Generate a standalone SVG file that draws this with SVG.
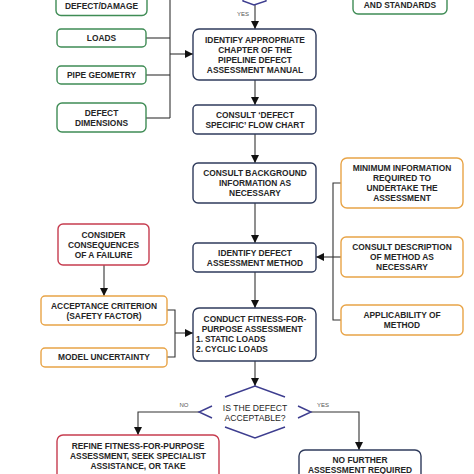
<svg xmlns="http://www.w3.org/2000/svg" width="474" height="474" viewBox="0 0 474 474">
<defs>
<marker id="ah" markerWidth="9" markerHeight="9" refX="8" refY="4.5" orient="auto" markerUnits="userSpaceOnUse">
<path d="M0,0.5 L8,4.5 L0,8.5 Z" fill="#111"/>
</marker>
<style>
.box{fill:#fff;stroke-width:1.4}
.g{stroke:#3f8c55}
.n{stroke:#2f3b5c}
.o{stroke:#e8a447}
.r{stroke:#c63c4f}
.t{font-family:"Liberation Sans",Arial,sans-serif;font-weight:bold;font-size:8.4px;fill:#262626;text-anchor:middle}
.tl{text-anchor:start}
.q{font-family:"Liberation Sans",Arial,sans-serif;font-size:8.6px;fill:#262626;text-anchor:middle}
.s{font-family:"Liberation Sans",Arial,sans-serif;font-size:6px;fill:#555;text-anchor:middle}
.c{fill:none;stroke:#333;stroke-width:1.1}
.d{fill:none;stroke:#3d3d8f;stroke-width:1.4}
</style>
</defs>
<rect width="474" height="474" fill="#fff"/>

<g id="connectors">
<polyline class="c" points="146,38 170,38"/>
<polyline class="c" points="146,75 170,75"/>
<polyline class="c" points="146,118 170,118"/>
<polyline class="c" points="170,-2 170,118"/>
<line class="c" x1="170" y1="54" x2="193" y2="54" marker-end="url(#ah)"/>
<line class="c" x1="255" y1="5" x2="255" y2="29" marker-end="url(#ah)"/>
<line class="c" x1="255" y1="80" x2="255" y2="105" marker-end="url(#ah)"/>
<line class="c" x1="255" y1="134" x2="255" y2="163" marker-end="url(#ah)"/>
<line class="c" x1="255" y1="203" x2="255" y2="243" marker-end="url(#ah)"/>
<line class="c" x1="255" y1="272" x2="255" y2="308" marker-end="url(#ah)"/>
<line class="c" x1="255" y1="361" x2="255" y2="386" marker-end="url(#ah)"/>
<polyline class="c" points="341,183 333,183 333,320 341,320"/>
<line class="c" x1="341" y1="257" x2="316" y2="257" marker-end="url(#ah)"/>
<line class="c" x1="104" y1="265" x2="104" y2="296" marker-end="url(#ah)"/>
<polyline class="c" points="167,310 175,310 175,357 167,357"/>
<line class="c" x1="175" y1="333" x2="193" y2="333" marker-end="url(#ah)"/>
<polyline class="c" points="199,412 138,412 138,435" marker-end="url(#ah)"/>
<polyline class="c" points="311,412 359,412 359,450" marker-end="url(#ah)"/>
<text class="s" x="184" y="407">NO</text>
<text class="s" x="323" y="407">YES</text>
<text class="s" x="243" y="16">YES</text>
</g>

<g id="top-diamond">
<polyline class="d" points="243,-1 243,1 254,5 266,1 266,-1"/>
</g>

<g id="defect-damage">
<rect class="box g" x="56" y="-10" width="91" height="25.5" rx="5"/>
<text class="t" x="101.5" y="8.5">DEFECT/DAMAGE</text>
</g>
<g id="loads">
<rect class="box g" x="57" y="29" width="89" height="18" rx="4"/>
<text class="t" x="101.5" y="41">LOADS</text>
</g>
<g id="pipe-geometry">
<rect class="box g" x="57" y="66" width="89" height="18" rx="4"/>
<text class="t" x="101.5" y="78">PIPE GEOMETRY</text>
</g>
<g id="defect-dimensions">
<rect class="box g" x="57" y="103" width="89" height="29" rx="5"/>
<text class="t" x="101.5" y="116">DEFECT</text>
<text class="t" x="101.5" y="126">DIMENSIONS</text>
</g>
<g id="standards">
<rect class="box g" x="353" y="-10" width="94" height="24" rx="5"/>
<text class="t" x="400" y="7.5">AND STANDARDS</text>
</g>

<g id="identify-chapter">
<rect class="box n" x="193" y="29" width="123" height="51" rx="6"/>
<text class="t" x="255" y="43">IDENTIFY APPROPRIATE</text>
<text class="t" x="255" y="53">CHAPTER OF THE</text>
<text class="t" x="255" y="63">PIPELINE DEFECT</text>
<text class="t" x="255" y="73">ASSESSMENT MANUAL</text>
</g>
<g id="consult-flow">
<rect class="box n" x="193" y="105" width="123" height="29" rx="4"/>
<text class="t" x="255" y="118">CONSULT ‘DEFECT</text>
<text class="t" x="255" y="128">SPECIFIC’ FLOW CHART</text>
</g>
<g id="consult-background">
<rect class="box n" x="193" y="163" width="123" height="40" rx="5"/>
<text class="t" x="255" y="176">CONSULT BACKGROUND</text>
<text class="t" x="255" y="186">INFORMATION AS</text>
<text class="t" x="255" y="196">NECESSARY</text>
</g>
<g id="identify-method">
<rect class="box n" x="193" y="243" width="123" height="29" rx="4"/>
<text class="t" x="255" y="256">IDENTIFY DEFECT</text>
<text class="t" x="255" y="266">ASSESSMENT METHOD</text>
</g>
<g id="conduct">
<rect class="box n" x="193" y="308" width="123" height="53" rx="6"/>
<text class="t" x="255" y="322">CONDUCT FITNESS-FOR-</text>
<text class="t" x="252" y="332">PURPOSE ASSESSMENT</text>
<text class="t tl" x="196" y="342">1.<tspan x="205">STATIC LOADS</tspan></text>
<text class="t tl" x="196" y="352">2.<tspan x="205">CYCLIC LOADS</tspan></text>
</g>

<g id="minimum-info">
<rect class="box o" x="341" y="158" width="122" height="50" rx="6"/>
<text class="t" x="402" y="171">MINIMUM INFORMATION</text>
<text class="t" x="402" y="181">REQUIRED TO</text>
<text class="t" x="402" y="191">UNDERTAKE THE</text>
<text class="t" x="402" y="201">ASSESSMENT</text>
</g>
<g id="consult-description">
<rect class="box o" x="341" y="237" width="122" height="40" rx="5"/>
<text class="t" x="402" y="250">CONSULT DESCRIPTION</text>
<text class="t" x="402" y="260">OF METHOD AS</text>
<text class="t" x="402" y="270">NECESSARY</text>
</g>
<g id="applicability">
<rect class="box o" x="341" y="305" width="122" height="30" rx="5"/>
<text class="t" x="402" y="318">APPLICABILITY OF</text>
<text class="t" x="402" y="328">METHOD</text>
</g>

<g id="consequences">
<rect class="box r" x="58" y="224" width="91" height="41" rx="5"/>
<text class="t" x="103.5" y="238">CONSIDER</text>
<text class="t" x="103.5" y="248">CONSEQUENCES</text>
<text class="t" x="103.5" y="258">OF A FAILURE</text>
</g>
<g id="acceptance">
<rect class="box o" x="41" y="296" width="126" height="29" rx="4"/>
<text class="t" x="104" y="309">ACCEPTANCE CRITERION</text>
<text class="t" x="104" y="319">(SAFETY FACTOR)</text>
</g>
<g id="model-uncertainty">
<rect class="box o" x="41" y="348" width="126" height="19" rx="4"/>
<text class="t" x="104" y="360">MODEL UNCERTAINTY</text>
</g>

<g id="decision">
<polyline class="d" points="225,397 255,386 285,397"/>
<polyline class="d" points="212,406 199,412 212,418"/>
<polyline class="d" points="298,406 311,412 298,418"/>
<polyline class="d" points="225,427 255,438 285,427"/>
<text class="q" x="255" y="411">IS THE DEFECT</text>
<text class="q" x="255" y="421">ACCEPTABLE?</text>
</g>

<g id="refine">
<rect class="box r" x="57" y="435" width="162" height="50" rx="6"/>
<text class="t" x="138" y="449">REFINE FITNESS-FOR-PURPOSE</text>
<text class="t" x="138" y="459">ASSESSMENT, SEEK SPECIALIST</text>
<text class="t" x="138" y="469">ASSISTANCE, OR TAKE</text>
</g>
<g id="no-further">
<rect class="box n" x="299" y="450" width="122" height="40" rx="6"/>
<text class="t" x="360" y="463">NO FURTHER</text>
<text class="t" x="360" y="473">ASSESSMENT REQUIRED</text>
</g>
</svg>
